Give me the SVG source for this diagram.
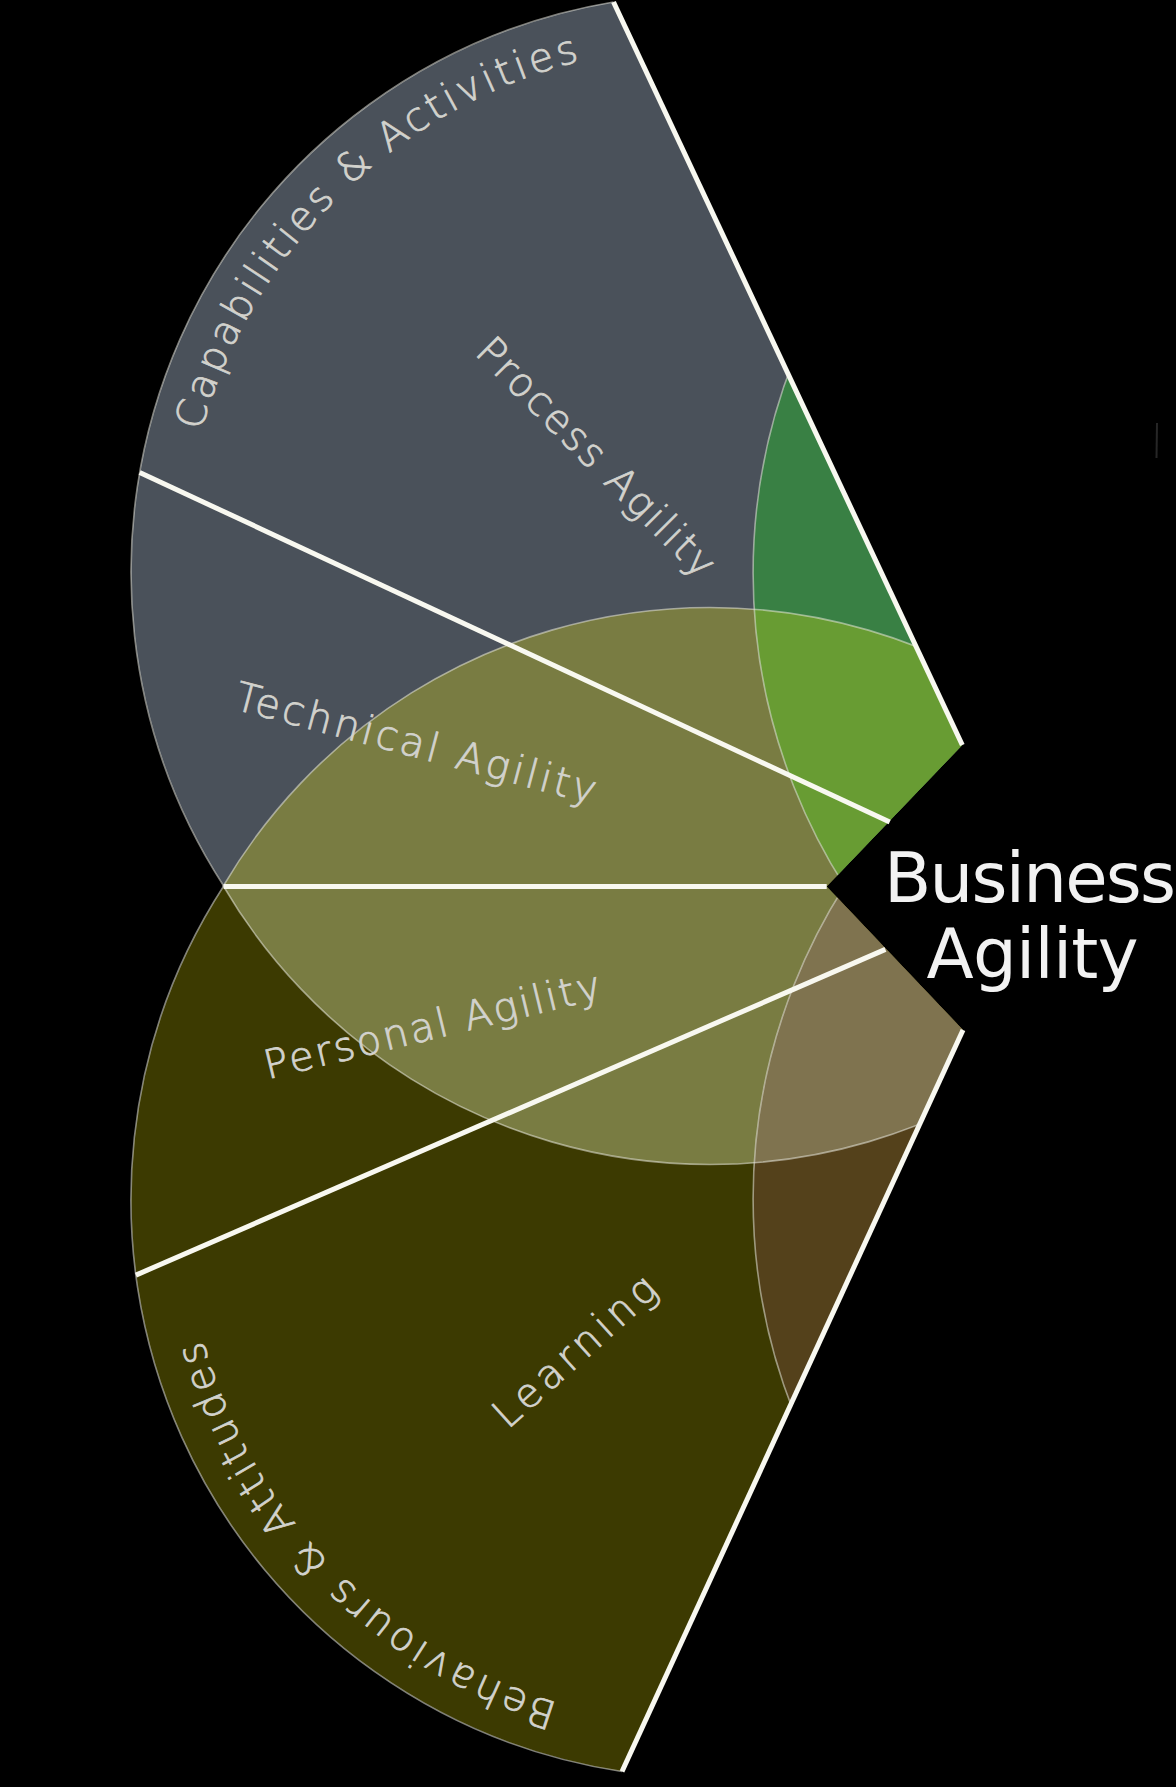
<svg xmlns="http://www.w3.org/2000/svg" width="1176" height="1787" viewBox="0 0 1176 1787">
<defs>
<style>
.lbl{font-family:"DejaVu Sans","Liberation Sans",sans-serif;font-size:40px;font-weight:200;fill:#d2d2cd;stroke:#d2d2cd;stroke-width:0.8px;}
.mid{text-anchor:middle;dominant-baseline:central;}
.ba{font-family:"DejaVu Sans","Liberation Sans",sans-serif;font-size:69px;fill:#f2f2f2;text-anchor:middle;}
.thin{fill:none;stroke:#e6e6dc;stroke-opacity:.55;stroke-width:1.6;}
.white{fill:none;stroke:#f8f8f0;stroke-width:5;stroke-linecap:butt;}
</style>
<clipPath id="wedge"><polygon points="826.7,886.5 962.3,745 476.5,-290 -50,-290 -50,2100 485.5,2067.5 963,1030"/></clipPath>
<clipPath id="union"><circle cx="709" cy="572" r="578"/><circle cx="709" cy="1200" r="578"/></clipPath>
<clipPath id="lensClip"><path d="M223.3 886 A564.5 564.5 0 0 1 1196.7 886 A564.5 564.5 0 0 1 223.3 886 Z"/></clipPath>
<clipPath id="topHalf"><rect x="0" y="0" width="1176" height="886.5"/></clipPath>
<clipPath id="botHalf"><rect x="0" y="886.5" width="1176" height="901"/></clipPath>
<path id="arcCap" d="M183.5 612 A527 527 0 0 1 760.9 47.6"/>
<path id="arcBeh" d="M749.3 1723.5 A525 525 0 0 1 186.5 1148.8"/>
</defs>
<rect width="1176" height="1787" fill="#000"/>

<g id="fan" clip-path="url(#wedge)">
 <g clip-path="url(#union)">
  <g id="capabilities-activities"><circle cx="709" cy="572" r="578" fill="#4a515a"/></g>
  <g id="behaviours-attitudes"><circle cx="709" cy="1200" r="578" fill="#3c3a01"/></g>
  <g id="overlap"><path d="M223.3 886 A564.5 564.5 0 0 1 1196.7 886 A564.5 564.5 0 0 1 223.3 886 Z" fill="#797c42"/></g>
  <g id="process-zone">
   <g clip-path="url(#topHalf)"><circle cx="1333.6" cy="573" r="580.5" fill="#398044"/></g>
   <g clip-path="url(#lensClip)"><g clip-path="url(#topHalf)"><circle cx="1333.6" cy="573" r="580.5" fill="#689c33"/></g></g>
  </g>
  <g id="learning-zone">
   <g clip-path="url(#botHalf)"><circle cx="1333.6" cy="1199" r="580.5" fill="#54411b"/></g>
   <g clip-path="url(#lensClip)"><g clip-path="url(#botHalf)"><circle cx="1333.6" cy="1199" r="580.5" fill="#7f734f"/></g></g>
  </g>
 </g>
 <g id="outlines">
  <path class="thin" d="M223.3 886 A564.5 564.5 0 0 1 1196.7 886 A564.5 564.5 0 0 1 223.3 886 Z"/>
  <g clip-path="url(#topHalf)"><circle class="thin" cx="1333.6" cy="573" r="580.5"/></g>
  <g clip-path="url(#botHalf)"><circle class="thin" cx="1333.6" cy="1199" r="580.5"/></g>
 </g>
</g>
<path class="thin" d="M613.5 2 A578 578 0 0 0 223.7 886"/>
<path class="thin" d="M223.7 886 A578 578 0 0 0 622 1771.5"/>

<g id="connectors">
 <line class="white" x1="613.5" y1="2" x2="962.3" y2="745"/>
 <line class="white" x1="963" y1="1030" x2="622" y2="1771.5"/>
 <line class="white" x1="139.7" y1="472.4" x2="889.7" y2="822"/>
 <line class="white" x1="223.7" y1="886.5" x2="826.7" y2="886.5"/>
 <line class="white" x1="135.9" y1="1275.1" x2="885.4" y2="949.4"/>
</g>

<g id="labels">
 <text class="lbl"><textPath href="#arcCap" startOffset="50%" text-anchor="middle" textLength="555">Capabilities &amp; Activities</textPath></text>
 <text class="lbl"><textPath href="#arcBeh" startOffset="50%" text-anchor="middle" textLength="530">Behaviours &amp; Attitudes</textPath></text>
 <text class="lbl mid" transform="translate(596.5 457) rotate(45.1)" textLength="320">Process Agility</text>
 <text class="lbl mid" transform="translate(416 743) rotate(14.9)" textLength="372">Technical Agility</text>
 <text class="lbl mid" transform="translate(432 1025) rotate(-13.6)" textLength="345">Personal Agility</text>
 <text class="lbl mid" transform="translate(574.5 1351) rotate(-42.1)" textLength="205">Learning</text>
</g>

<g id="business-agility">
 <text class="ba" x="1030" y="901.7" textLength="292">Business</text>
 <text class="ba" x="1032.5" y="978.3" textLength="212">Agility</text>
</g>
<line x1="1157" y1="423" x2="1156.5" y2="458" stroke="#555" stroke-width="2" stroke-opacity=".45"/>
</svg>
